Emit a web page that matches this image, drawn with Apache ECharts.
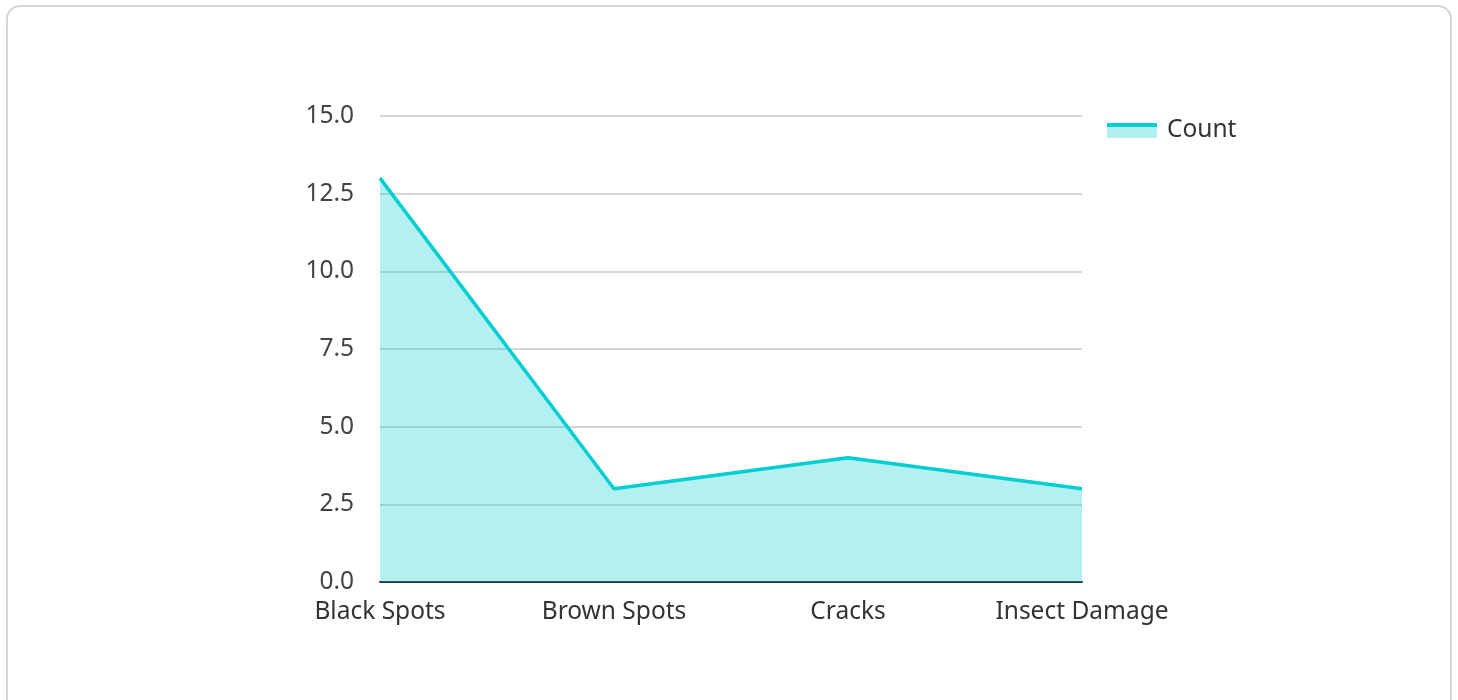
<!DOCTYPE html>
<html>
<head>
<meta charset="utf-8">
<script src="https://cdn.jsdelivr.net/npm/echarts@6/dist/echarts.min.js"></script>
<style>
  html, body { margin: 0; padding: 0; background: #fff; }
  #card { position: absolute; left: 6px; top: 5px; width: 1446px; height: 720px; border: 2px solid #d6d6d6; border-radius: 14px; box-sizing: border-box; }
  #chart { position: absolute; left: 0; top: 0; width: 1458px; height: 700px; }
</style>
</head>
<body>
<div id="card"></div>
<div id="chart"></div>
<script>
const categories = ['Black Spots', 'Brown Spots', 'Cracks', 'Insect Damage'];
const seriesName = 'Count';
const counts = [13, 3, 4, 3];

const iconSvg = '<svg xmlns="http://www.w3.org/2000/svg" width="50" height="15">' +
  '<rect x="0" y="0" width="50" height="15" fill="#b2f0ef"/>' +
  '<rect x="0" y="0" width="50" height="4" fill="#00CED1"/></svg>';
const legendIcon = 'image://data:image/svg+xml;charset=utf-8,' + encodeURIComponent(iconSvg);

const chart = echarts.init(document.getElementById('chart'));
const font = 'Noto Sans';
chart.setOption({
  animation: false,
  grid: { left: 380, right: 376, top: 116, bottom: 118 },
  legend: {
    data: [{ name: seriesName, icon: legendIcon }],
    left: 1107, top: 118, padding: 0,
    itemWidth: 50, itemHeight: 15, itemGap: 10,
    textStyle: { fontFamily: font, fontSize: 24.5, color: '#333', padding: [0, 0, 0, 5] }
  },
  xAxis: {
    type: 'category',
    data: categories,
    boundaryGap: false,
    axisLine: { lineStyle: { color: '#333', width: 2 } },
    axisTick: { show: false },
    axisLabel: { fontFamily: font, fontSize: 24.5, color: '#333', margin: 18 }
  },
  yAxis: {
    type: 'value',
    min: 0, max: 15, interval: 2.5,
    axisLine: { show: false },
    axisTick: { show: false },
    splitLine: { lineStyle: { color: '#c8c8c8', width: 1.5 } },
    axisLabel: { fontFamily: font, fontSize: 24.5, color: '#444', margin: 26,
      padding: [4, 0, 0, 0],
      formatter: v => v.toFixed(1) }
  },
  series: [{
    name: seriesName,
    type: 'line',
    data: counts,
    showSymbol: false,
    symbol: 'none',
    lineStyle: { color: '#00CED1', width: 3.5 },
    itemStyle: { color: '#00CED1' },
    areaStyle: { color: '#00CED1', opacity: 0.3 }
  }]
});
</script>
</body>
</html>
